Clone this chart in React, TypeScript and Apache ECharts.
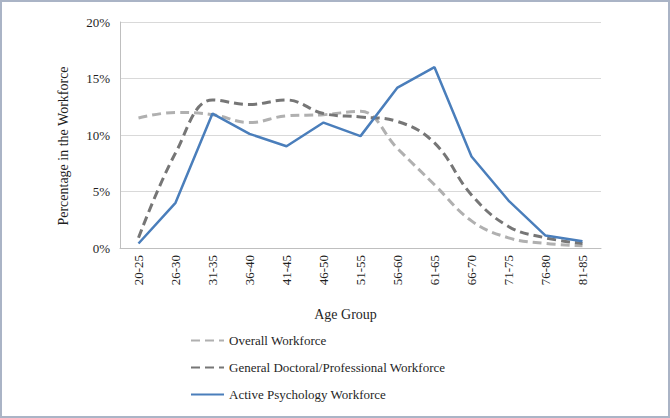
import React, { useEffect, useRef } from "react";
import * as echarts from "echarts";

// Age bands on the category axis
const ageGroups = [
  "20-25", "26-30", "31-35", "36-40", "41-45", "46-50", "51-55",
  "56-60", "61-65", "66-70", "71-75", "76-80", "81-85",
];

// Share of each workforce by age band, in percent
const overallWorkforce = [11.5, 12.0, 11.8, 11.1, 11.7, 11.8, 12.1, 8.8, 5.6, 2.4, 0.9, 0.4, 0.2];
const doctoralWorkforce = [0.9, 8.4, 13.1, 12.7, 13.1, 11.9, 11.6, 11.2, 9.3, 4.7, 1.9, 0.9, 0.4];
const psychologyWorkforce = [0.4, 4.0, 11.9, 10.1, 9.0, 11.1, 9.9, 14.2, 16.0, 8.1, 4.2, 1.1, 0.6];

const yTicks = { min: 0, max: 20, interval: 5 };

const FONT = "'Liberation Serif', 'Times New Roman', serif";
const TEXT = "#1f1f1f";

export default function App() {
  const ref = useRef<HTMLDivElement>(null);

  useEffect(() => {
    if (!ref.current) return;
    const chart = echarts.init(ref.current, undefined, { renderer: "svg" });
    chart.setOption({
      animation: false,
      backgroundColor: "#ffffff",
      textStyle: { fontFamily: FONT },
      grid: { left: 118, top: 20, width: 481, height: 226, containLabel: false },
      xAxis: {
        type: "category",
        data: ageGroups,
        boundaryGap: true,
        name: "Age Group",
        nameLocation: "middle",
        nameGap: 59,
        nameTextStyle: { fontFamily: FONT, fontSize: 14, color: TEXT, padding: [0, 30, 0, 0] },
        axisLine: { show: true, lineStyle: { color: "#bfbfbf", width: 1 } },
        axisTick: { show: false },
        axisLabel: {
          interval: 0,
          rotate: 90,
          margin: 7,
          fontFamily: FONT,
          fontSize: 13,
          color: TEXT,
        },
        splitLine: { show: false },
      },
      yAxis: {
        type: "value",
        min: yTicks.min,
        max: yTicks.max,
        interval: yTicks.interval,
        name: "Percentage in the Workforce",
        nameLocation: "middle",
        nameGap: 50,
        nameTextStyle: { fontFamily: FONT, fontSize: 14, color: TEXT, padding: [0, 22, 0, 0] },
        axisLine: { show: true, lineStyle: { color: "#bfbfbf", width: 1 } },
        axisTick: { show: false },
        axisLabel: {
          formatter: "{value}%",
          margin: 10,
          fontFamily: FONT,
          fontSize: 13,
          color: TEXT,
        },
        splitLine: { show: true, lineStyle: { color: "#d9d9d9", width: 1 } },
      },
      legend: {
        orient: "vertical",
        left: 183,
        top: 327,
        itemWidth: 33,
        itemHeight: 14,
        itemGap: 14,
        itemStyle: { opacity: 0 },
        textStyle: { fontFamily: FONT, fontSize: 13, color: TEXT },
        data: ["Overall Workforce", "General Doctoral/Professional Workforce", "Active Psychology Workforce"],
      },
      series: [
        {
          name: "Overall Workforce",
          type: "line",
          data: overallWorkforce,
          smooth: 0.4,
          symbol: "none",
          lineStyle: { color: "#b0b0b0", width: 3, type: [9, 5] },
          itemStyle: { color: "#b0b0b0" },
          z: 1,
        },
        {
          name: "General Doctoral/Professional Workforce",
          type: "line",
          data: doctoralWorkforce,
          smooth: 0.4,
          symbol: "none",
          lineStyle: { color: "#767676", width: 3, type: [9, 5] },
          itemStyle: { color: "#767676" },
          z: 2,
        },
        {
          name: "Active Psychology Workforce",
          type: "line",
          data: psychologyWorkforce,
          smooth: false,
          symbol: "none",
          lineStyle: { color: "#4a7ebb", width: 2.5, type: "solid" },
          itemStyle: { color: "#4a7ebb" },
          z: 3,
        },
      ],
    });
    return () => chart.dispose();
  }, []);

  return (
    <div
      style={{
        position: "fixed",
        left: 0,
        top: 0,
        width: 670,
        height: 418,
        boxSizing: "border-box",
        border: "2px solid #aab4c6",
        background: "#ffffff",
      }}
    >
      <div ref={ref} style={{ width: 666, height: 414 }} />
    </div>
  );
}
